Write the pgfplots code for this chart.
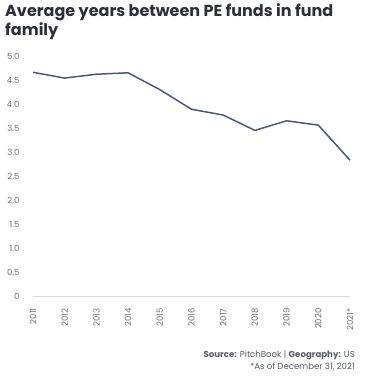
\documentclass[border=0pt]{standalone}
\usepackage{fontspec}
\setmainfont{Poppins}
\usepackage{pgfplots}
\pgfplotsset{compat=1.18}
\definecolor{linec}{HTML}{4B5A74}
\definecolor{titlec}{HTML}{2B303B}
\definecolor{tickc}{HTML}{707070}
\definecolor{srcc}{HTML}{555A64}
\definecolor{basec}{HTML}{DADADA}
\begin{document}
\begin{tikzpicture}[x=1pt,y=1pt]
\useasboundingbox (-33,-81) rectangle (333,296);
\begin{axis}[
  at={(0,0)}, anchor=south west,
  scale only axis, width=317pt, height=240pt,
  xmin=2011, xmax=2021, ymin=0, ymax=5,
  axis line style={draw=none},
  major tick length=0pt,
  xtick={2011,...,2021},
  xticklabels={2011,2012,2013,2014,2015,2016,2017,2018,2019,2020,2021*},
  xticklabel style={rotate=90, anchor=east, font=\fontsize{8.5}{9}\selectfont, text=tickc},
  xticklabel shift=9pt,
  ytick={0,0.5,...,5},
  yticklabels={0,0.5,1.0,1.5,2.0,2.5,3.0,3.5,4.0,4.5,5.0},
  yticklabel style={anchor=east, font=\fontsize{8.5}{9}\selectfont, text=tickc},
  yticklabel shift=10pt,
  /pgf/number format/assume math mode=true,
  clip=false,
]
\draw[basec, line width=0.8pt] (axis cs:2011,0) -- (axis cs:2021,0);
\addplot[linec, line width=1.5pt, mark=none] coordinates {
 (2011,4.66) (2012,4.54) (2013,4.62) (2014,4.65) (2015,4.30) (2016,3.89)
 (2017,3.77) (2018,3.45) (2019,3.65) (2020,3.56) (2021,2.83)};
\end{axis}
\node[anchor=base west, text=titlec, font=\bfseries\fontsize{16}{19.5}\selectfont, inner sep=0pt] at (-28,279) {Average years between PE funds in fund};
\node[anchor=base west, text=titlec, font=\bfseries\fontsize{16}{19.5}\selectfont, inner sep=0pt] at (-28,260) {family};
\node[anchor=base east, inner sep=0pt, text=srcc, font=\fontsize{8.6}{10}\selectfont] at (322,-61) {\textbf{Source:} PitchBook | \textbf{Geography:} US};
\node[anchor=base east, inner sep=0pt, text=srcc, font=\fontsize{8.6}{10}\selectfont] at (322,-74) {*As of December 31, 2021};
\end{tikzpicture}
\end{document}
